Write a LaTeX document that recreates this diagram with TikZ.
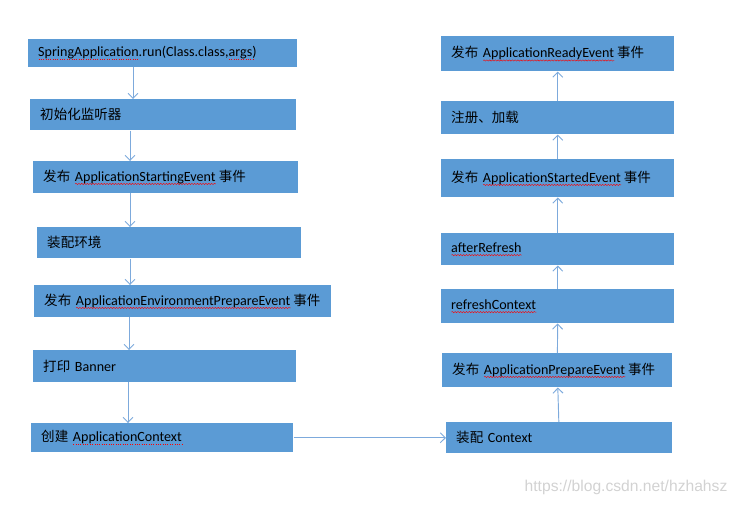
\documentclass[tikz,border=0pt]{standalone}
\usepackage{fontspec}
\usetikzlibrary{arrows.meta,decorations.pathmorphing}
\setmainfont{Carlito}[Scale=1.04]
\newfontfamily\zhfont{Noto Sans CJK SC}
\newfontfamily\wmfont{Liberation Sans}
\newcommand{\zh}[1]{{\zhfont #1}}
\newsavebox{\markbox}
\newcommand{\wavy}[1]{\sbox{\markbox}{#1}\rlap{\tikz[baseline=0pt]\draw[red, line width=0.35pt,
  decorate, decoration={snake, amplitude=0.55pt, segment length=2.4pt}]
  (0pt,-2.4pt) -- (\wd\markbox,-2.4pt);}\usebox{\markbox}}
\newcommand{\dotty}[1]{\sbox{\markbox}{#1}\rlap{\tikz[baseline=0pt]\draw[red, line width=0.6pt,
  dash pattern=on 0.6pt off 1.4pt] (0pt,-2.4pt) -- (\wd\markbox,-2.4pt);}\usebox{\markbox}}
\newcommand{\gap}{\hspace{2.6pt}}
\definecolor{boxblue}{RGB}{91,155,213}
\definecolor{lineblue}{RGB}{125,170,220}

\tikzset{
  stage/.style={fill=boxblue, anchor=north west, align=left, inner xsep=8.5pt,
    inner ysep=0pt, font=\fontsize{11.5}{14}\selectfont},
  flow/.style={draw=lineblue, line width=0.8pt, -{Straight Barb[length=4.3pt,width=8.5pt]}}
}

\begin{document}
\begin{tikzpicture}[x=0.85pt, y=-0.85pt]
\useasboundingbox (0,0) rectangle (738,506);
% ---- left column: run() ----
\node[stage, text width=211.7pt, minimum height=23.8pt] (L1) at (28,39)
  {\dotty{SpringApplication}.run(Class.class,\dotty{args})};
\node[stage, text width=209.2pt, minimum height=26.4pt] (L2) at (30,99)
  {\zh{初始化监听器}};
\node[stage, text width=208.3pt, minimum height=27.2pt] (L3) at (33,161)
  {\zh{发布} \wavy{ApplicationStartingEvent}\gap\zh{事件}};
\node[stage, text width=207.5pt, minimum height=26.4pt] (L4) at (37,227)
  {\zh{装配环境}};
\node[stage, text width=235.5pt, minimum height=27.2pt] (L5) at (34,285)
  {\mbox{\zh{发布} \wavy{ApplicationEnvironmentPrepareEvent}\gap\zh{事件}}};
\node[stage, text width=206.6pt, minimum height=27.2pt] (L6) at (33,350)
  {\zh{打印} Banner};
\node[stage, text width=205.8pt, minimum height=24.7pt] (L7) at (31,423)
  {\zh{创建} \dotty{ApplicationContext}};
\foreach \a/\b/\x in {L1/L2/133, L2/L3/130, L3/L4/130, L4/L5/130, L5/L6/129, L6/L7/128}
  \draw[flow] (\a.south -| \x,0) -- (\b.north -| \x,0);
% ---- right column: context ----
\node[stage, text width=175.2pt, minimum height=26.4pt] (R7) at (446,422)
  {\zh{装配} Context};
\node[stage, text width=178.6pt, minimum height=28.9pt] (R6) at (442,353)
  {\zh{发布} \wavy{ApplicationPrepareEvent}\gap\zh{事件}};
\node[stage, text width=181.1pt, minimum height=28.9pt] (R5) at (441,289)
  {\wavy{refreshContext}};
\node[stage, text width=181.1pt, minimum height=27.2pt] (R4) at (441,233)
  {\wavy{afterRefresh}};
\node[stage, text width=181.1pt, minimum height=32.3pt] (R3) at (441,159)
  {\zh{发布} \wavy{ApplicationStartedEvent}\gap\zh{事件}};
\node[stage, text width=181.1pt, minimum height=28.1pt] (R2) at (441,101)
  {\zh{注册、加载}};
\node[stage, text width=181.1pt, minimum height=29.8pt] (R1) at (441,36)
  {\zh{发布} \wavy{ApplicationReadyEvent}\gap\zh{事件}};
\foreach \a/\b in {R7/R6, R6/R5, R5/R4, R4/R3, R3/R2, R2/R1}
  \draw[flow] (\a) -- (\b);
% ---- hand over ----
\draw[flow] (L7) -- (R7);
\node[font=\wmfont\fontsize{13.3}{15}\selectfont, text=gray!35] (mark) at (626,487)
  {https://blog.csdn.net/hzhahsz};
\end{tikzpicture}
\end{document}
